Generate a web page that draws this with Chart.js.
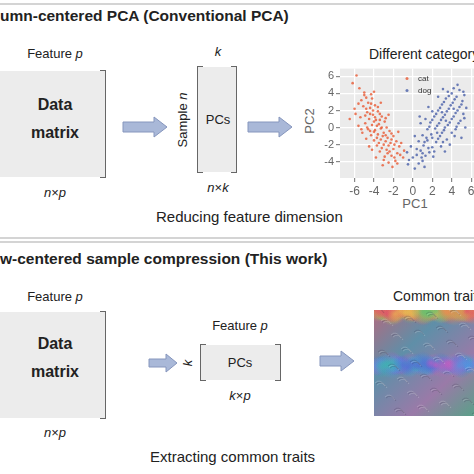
<!DOCTYPE html>
<html><head><meta charset="utf-8">
<script src="https://cdn.jsdelivr.net/npm/chart.js@4"></script>
<style>
body{margin:0;width:474px;height:474px;overflow:hidden;background:#fff;font-family:Arial,"Liberation Sans",sans-serif;position:relative}
.t{position:absolute;white-space:nowrap;color:#222}
.c{transform:translateX(-50%)}
.panel{position:absolute;left:-4px;width:476px;border:2px solid #d4d4d4}
.box{position:absolute;background:#ececec}
.box:before,.box:after{content:"";position:absolute;top:-1px;bottom:-1px;width:5px;border:1.5px solid #666}
.box:before{left:-1px;border-right:none}
.box:after{right:-1px;border-left:none}
.arrow{position:absolute}
i{font-style:italic}
</style></head><body>
<div class="panel" style="top:3px;height:232px"></div>
<div class="panel" style="top:241px;height:240px"></div>

<div class="t" style="left:0;top:7px;font-size:15.5px;font-weight:bold">umn-centered PCA (Conventional PCA)</div>
<div class="t c" style="left:55px;top:46px;font-size:13px">Feature <i>p</i></div>
<div class="box" style="left:-10px;top:71px;width:115px;height:106px"></div>
<div class="t c" style="left:55px;top:96px;font-size:16px;font-weight:bold">Data</div>
<div class="t c" style="left:55px;top:124px;font-size:16px;font-weight:bold">matrix</div>
<div class="t c" style="left:55px;top:185px;font-size:13px"><i>n</i>×<i>p</i></div>
<svg class="arrow" style="left:122px;top:116px" width="46" height="22"><path d="M1 6H32V1L45 11L32 21V16H1Z" fill="#a9b8d8" stroke="#8696bd"/></svg>
<div class="t c" style="left:218px;top:44px;font-size:13px"><i>k</i></div>
<div class="box" style="left:198px;top:67px;width:38px;height:105px"></div>
<div class="t" style="left:182px;top:120px;font-size:13px;transform:translate(-50%,-50%) rotate(-90deg)">Sample <i>n</i></div>
<div class="t c" style="left:218px;top:112px;font-size:13px">PCs</div>
<div class="t c" style="left:218px;top:180px;font-size:13px"><i>n</i>×<i>k</i></div>
<svg class="arrow" style="left:247px;top:116px" width="46" height="22"><path d="M1 6H32V1L45 11L32 21V16H1Z" fill="#a9b8d8" stroke="#8696bd"/></svg>
<div class="t" style="left:156px;top:208px;font-size:15px">Reducing feature dimension</div>
<div class="t" style="left:369px;top:46px;font-size:14px">Different category</div>
<div class="t" style="left:309px;top:121px;font-size:13px;color:#666;transform:translate(-50%,-50%) rotate(-90deg)">PC2</div>
<div class="t c" style="left:415px;top:196px;font-size:13px;color:#666">PC1</div>

<div class="t" style="left:0;top:250px;font-size:15.5px;font-weight:bold">w-centered sample compression (This work)</div>
<div class="t c" style="left:55px;top:289px;font-size:13px">Feature <i>p</i></div>
<div class="box" style="left:-10px;top:312px;width:115px;height:106px"></div>
<div class="t c" style="left:55px;top:335px;font-size:16px;font-weight:bold">Data</div>
<div class="t c" style="left:55px;top:363px;font-size:16px;font-weight:bold">matrix</div>
<div class="t c" style="left:55px;top:425px;font-size:13px"><i>n</i>×<i>p</i></div>
<svg class="arrow" style="left:148px;top:353px" width="30" height="20"><path d="M1 6H18V1L29 10L18 19V14H1Z" fill="#a9b8d8" stroke="#8696bd"/></svg>
<div class="t" style="left:187px;top:363px;font-size:13px;transform:translate(-50%,-50%) rotate(-90deg)"><i>k</i></div>
<div class="t c" style="left:240px;top:318px;font-size:13px">Feature <i>p</i></div>
<div class="box" style="left:201px;top:345px;width:79px;height:35px"></div>
<div class="t c" style="left:240px;top:355px;font-size:13px">PCs</div>
<div class="t c" style="left:240px;top:388px;font-size:13px"><i>k</i>×<i>p</i></div>
<svg class="arrow" style="left:319px;top:350px" width="36" height="22"><path d="M1 6H22V1L35 11L22 21V16H1Z" fill="#a9b8d8" stroke="#8696bd"/></svg>
<div class="t" style="left:393px;top:288px;font-size:14px">Common traits</div>
<canvas id="tex" width="100" height="106" style="position:absolute;left:374px;top:310px"></canvas>
<div class="t" style="left:150px;top:448px;font-size:15px">Extracting common traits</div>

<div style="position:absolute;left:300px;top:60px;width:180px;height:160px"><canvas id="sc"></canvas></div>
<script>
const catPoints = [[-5.8,6.1],[-6.2,5.2],[-5.5,4.6],[-5.0,4.1],[-4.8,3.5],[-5.3,3.2],[-4.6,2.9],[-4.2,3.4],[-5.1,2.5],[-4.4,2.3],[-3.9,2.6],[-4.7,1.8],[-4.1,1.5],[-3.6,1.9],[-5.4,1.2],[-4.5,1.0],[-3.8,0.9],[-3.2,1.3],[-4.9,0.5],[-4.2,0.3],[-3.5,0.4],[-2.9,0.7],[-4.6,-0.2],[-3.9,-0.3],[-3.3,-0.1],[-2.7,0.0],[-4.3,-0.9],[-3.6,-0.8],[-3.0,-0.6],[-2.4,-0.4],[-4.0,-1.5],[-3.3,-1.4],[-2.6,-1.2],[-2.0,-1.0],[-3.7,-2.1],[-3.0,-2.0],[-2.3,-1.8],[-1.7,-1.6],[-3.4,-2.8],[-2.7,-2.6],[-2.0,-2.5],[-1.4,-2.2],[-2.9,-3.4],[-2.2,-3.3],[-1.6,-3.0],[-2.5,-4.1],[-1.8,-3.9],[-1.0,-3.5],[-6.5,1.0],[-6.0,2.2],[-5.6,0.2],[-4.0,4.2],[-3.3,2.9],[-2.5,1.5],[-1.5,-0.5],[-0.9,-2.7],[-3.8,-3.5],[-4.5,-2.2],[-2.1,-4.6],[-5.2,-0.6],[-4.4,1.6],[-3.7,0.2],[-3.1,-1.0],[-4.8,2.2],[-2.8,-1.6],
  [-5.0,3.8],[-4.3,2.8],[-3.6,2.4],[-4.9,1.4],[-4.0,0.7],[-3.4,0.9],[-4.4,-0.4],[-3.7,-1.2],[-2.8,-0.9],[-2.2,-1.4],[-3.2,-2.4],[-2.5,-2.1],[-1.9,-2.0],[-2.6,-3.0],[-1.3,-3.2],[-3.0,-3.8],[-4.1,2.0],[-3.4,1.6],[-4.7,0.0],[-4.0,-0.5],[-3.5,-1.8],[-2.2,-0.7],[-5.6,2.8],[-4.2,-2.6],[-1.6,-4.2],[-2.8,1.1],[-5.9,1.6],[-3.1,-4.4],[-1.2,-1.8],[-4.3,3.9],[-3.9,1.2],[-3.2,0.0],[-2.4,-2.8],[-1.9,-3.5],[-5.3,-0.2],[-4.8,-1.3]];
const dogPoints = [[0.2,-4.8],[0.6,-4.2],[-0.4,-3.8],[1.0,-3.9],[0.4,-3.2],[1.3,-3.3],[0.8,-2.7],[1.7,-2.9],[-0.2,-2.2],[1.1,-2.1],[2.0,-2.3],[0.6,-1.6],[1.5,-1.5],[2.4,-1.7],[1.0,-0.9],[1.9,-0.8],[2.8,-1.0],[3.5,-1.4],[1.5,-0.2],[2.3,-0.1],[3.2,-0.3],[4.0,-0.6],[1.8,0.6],[2.7,0.5],[3.6,0.3],[4.5,0.1],[2.2,1.3],[3.1,1.2],[4.0,1.0],[4.9,0.8],[2.6,2.0],[3.5,1.9],[4.4,1.7],[5.2,1.6],[3.0,2.7],[3.9,2.6],[4.8,2.4],[3.4,3.4],[4.3,3.3],[5.1,3.1],[4.0,4.0],[4.8,4.4],[5.3,3.8],[3.1,4.5],[1.6,2.4],[0.8,0.5],[0.2,-1.0],[2.9,-2.2],[3.8,-2.0],[5.4,0.0],[5.0,-1.2],[1.2,-4.6],[-0.6,-2.9],[2.0,1.9],[4.6,5.0],[3.3,-2.8],[0.7,1.3],[5.5,2.3],[2.5,-0.6],[3.4,0.8],[4.2,2.2],[1.4,-1.2],
  [0.9,-3.5],[1.6,-2.4],[2.2,-2.8],[1.2,-1.7],[2.0,-1.2],[2.6,-1.3],[3.0,-0.6],[1.7,0.1],[2.5,0.2],[3.3,0.0],[2.0,0.9],[2.9,0.9],[3.8,0.6],[2.4,1.6],[3.3,1.5],[4.2,1.3],[2.8,2.3],[3.7,2.2],[4.6,2.0],[3.2,3.0],[4.1,2.9],[5.0,2.7],[3.7,3.7],[4.5,3.6],[4.2,4.6],[5.2,4.2],[0.4,-2.5],[1.0,-3.0],[3.1,-1.7],[4.3,-1.0],[4.7,0.5],[5.3,1.1],[1.3,1.0],[0.0,-3.5],[-0.5,-4.3],[2.6,3.6],[3.6,4.2],[4.4,-0.2],[2.1,-3.4],[3.0,1.8]];
const xTicks = [-6,-4,-2,0,2,4,6];
const yTicks = [-4,-2,0,2,4,6];
const seriesNames = ['cat','dog'];
const seriesColors = ['rgba(232,80,40,0.75)','rgba(50,75,160,0.7)'];

const toXY = p => ({x:p[0], y:p[1]});
const plotBg = {
  id:'plotBg',
  beforeDraw(c){const a=c.chartArea,x=c.ctx;x.save();x.fillStyle='#ebebeb';x.fillRect(a.left,a.top,a.right-a.left,a.bottom-a.top);x.restore();},
  afterDraw(c){const x=c.ctx,a=c.chartArea;x.save();x.font='8px Arial';x.textBaseline='middle';
    seriesNames.forEach((n,i)=>{const yy=a.top+10+i*12;x.fillStyle=seriesColors[i];x.beginPath();x.arc(a.left+67,yy,1.5,0,7);x.fill();x.fillStyle='#333';x.fillText(n,a.left+78,yy);});x.restore();}
};
const ticksFrom = arr => s => { s.ticks = arr.map(v=>({value:v})); };
new Chart(document.getElementById('sc'), {
  type:'scatter',
  data:{datasets:[
    {label:seriesNames[0],data:catPoints.map(toXY),backgroundColor:seriesColors[0],borderWidth:0,pointRadius:1.3},
    {label:seriesNames[1],data:dogPoints.map(toXY),backgroundColor:seriesColors[1],borderWidth:0,pointRadius:1.3}
  ]},
  options:{animation:false,responsive:true,maintainAspectRatio:false,
    layout:{padding:{top:8,right:0,left:0,bottom:0}},
    plugins:{legend:{display:false},tooltip:{enabled:false}},
    scales:{
      x:{min:-7.5,max:6.5,afterBuildTicks:ticksFrom(xTicks),afterFit(s){s.height=42;},
         grid:{color:'#fff',lineWidth:1.2,tickColor:'#888',tickLength:4},border:{display:false},
         ticks:{color:'#666',font:{size:12},padding:2}},
      y:{min:-5.9,max:6.9,afterBuildTicks:ticksFrom(yTicks),afterFit(s){s.width=40;},
         grid:{color:'#fff',lineWidth:1.2,tickColor:'#888',tickLength:4},border:{display:false},
         ticks:{color:'#666',font:{size:11},padding:2}}
    }},
  plugins:[plotBg]
});

// decorative texture for "Common traits"
(function(){
  const cv=document.getElementById('tex'),g=cv.getContext('2d');
  const bg=g.createLinearGradient(0,0,100,106);
  bg.addColorStop(0,'#b06a80');bg.addColorStop(0.35,'#5f8fa8');bg.addColorStop(0.7,'#9a7aa8');bg.addColorStop(1,'#5aa088');
  g.fillStyle=bg;g.fillRect(0,0,100,106);
  const cols=['#e0506a','#40b0b0','#e8c050','#5868d8','#60c070','#c060c0','#f08a50','#4898e0'];
  for(let i=0;i<220;i++){
    const x=(i*37)%100+((i*13)%7),y=(i*53)%106+((i*11)%5),r=4+(i*7)%9;
    const gr=g.createRadialGradient(x,y,0,x,y,r);
    gr.addColorStop(0,cols[(i*3)%8]+'aa');gr.addColorStop(1,cols[(i*3)%8]+'00');
    g.fillStyle=gr;g.beginPath();g.arc(x,y,r,0,7);g.fill();
  }
  g.lineWidth=0.7;
  for(let i=0;i<90;i++){const x=(i*29)%100,y=(i*41)%106;g.strokeStyle=i%2?'rgba(255,255,255,0.3)':'rgba(40,30,60,0.3)';g.beginPath();g.moveTo(x,y);g.quadraticCurveTo(x+5,y-5,x+10,y+3);g.stroke();}
})();
</script>
</body></html>
